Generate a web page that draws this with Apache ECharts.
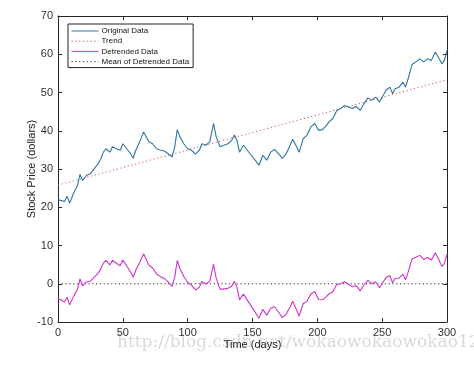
<!DOCTYPE html>
<html><head><meta charset="utf-8">
<script src="https://cdn.jsdelivr.net/npm/echarts@6/dist/echarts.min.js"></script>
<style>html,body{margin:0;padding:0;background:#fff}#c{width:474px;height:366px}</style>
</head><body><div id="c"></div>
<script>
const days = [0,2,5,7,9,12,15,17,19,22,25,28,31,33,35,37,40,42,45,48,50,53,56,58,60,63,66,68,70,73,76,79,82,85,88,90,92,94,97,100,103,106,109,111,114,117,120,122,125,128,131,134,136,138,140,143,146,149,152,155,158,161,164,167,170,173,176,179,181,184,186,189,192,195,198,201,204,207,209,212,215,218,221,224,227,230,233,236,239,242,245,248,250,253,256,258,260,263,266,268,270,273,276,279,282,285,288,291,294,296,298,300];
const original = [22.0,21.8,21.5,22.9,21.1,23.6,25.7,28.6,27.0,28.3,28.8,30.1,31.4,32.7,34.4,35.3,34.4,35.8,35.3,34.9,36.6,35.3,34.0,32.8,34.9,37.1,39.7,38.4,37.1,36.6,35.3,34.9,34.7,34.0,33.2,35.8,40.3,38.4,36.6,35.3,34.9,33.9,34.9,36.6,36.2,37.1,41.9,38.4,35.8,36.2,36.6,37.5,38.9,37.5,34.4,36.2,34.9,33.6,32.3,31.0,33.6,32.3,34.4,35.1,34.0,32.8,34.0,36.2,37.8,35.8,34.4,37.9,38.8,41.0,41.9,40.1,40.3,41.4,42.3,43.2,45.3,45.8,46.6,46.2,45.8,46.4,45.3,47.1,48.6,48.0,48.8,47.5,48.8,50.6,51.4,49.7,51.0,51.4,52.7,51.4,53.6,57.3,58.0,58.8,58.0,58.8,58.4,60.6,58.8,57.5,58.4,61.0];
const trendEnds = [25.8, 53.3];   // trend value at day 0 and day 300
const detrendedMean = 0;
const xTicks = [0, 300, 50];
const yTicks = [-10, 70, 10];
const names = ['Original Data','Trend','Detrended Data','Mean of Detrended Data'];

const slope = (trendEnds[1]-trendEnds[0])/300;
const origData = days.map((d,i)=>[d, original[i]]);
const detData = days.map((d,i)=>[d, +(original[i] - (trendEnds[0] + slope*d)).toFixed(2)]);
const trendData = [[0,trendEnds[0]],[300,trendEnds[1]]];
const meanData = [[0,detrendedMean],[300,detrendedMean]];

const font = 'Liberation Sans, Arial, sans-serif';
const axBase = (pos, showLabel) => ({
  type:'value', position:pos, min: pos==='top'||pos==='bottom'?xTicks[0]:yTicks[0],
  max: pos==='top'||pos==='bottom'?xTicks[1]:yTicks[1],
  interval: pos==='top'||pos==='bottom'?xTicks[2]:yTicks[2],
  axisLine:{show:true,onZero:false,lineStyle:{color:'#262626',width:1}},
  axisTick:{show:true,inside:true,length:4,lineStyle:{color:'#262626'}},
  axisLabel:{show:showLabel,color:'#333',fontSize:11,fontFamily:font,margin:5},
  splitLine:{show:false}
});
const chart = echarts.init(document.getElementById('c'));
const xb = axBase('bottom', true);
xb.name='Time (days)'; xb.nameLocation='middle'; xb.nameGap=17; xb.nameMoveOverlap=false;
xb.nameTextStyle={color:'#222',fontSize:11,fontFamily:font};
const yl = axBase('left', true);
yl.name='Stock Price (dollars)'; yl.nameLocation='middle'; yl.nameGap=21; yl.nameMoveOverlap=false;
yl.nameTextStyle={color:'#222',fontSize:11,fontFamily:font};
chart.setOption({
  animation:false,
  backgroundColor:'#fff',
  grid:{left:58,right:27,top:16,bottom:44},
  xAxis:[xb, axBase('top', false)],
  yAxis:[yl, axBase('right', false)],
  legend:{
    orient:'vertical', left:68, top:24, data:names,
    itemWidth:27, itemHeight:8, itemGap:2.2,
    padding:[3,4,2,3], borderColor:'#222', borderWidth:1, backgroundColor:'#fff', borderRadius:0,
    itemStyle:{opacity:0},
    lineStyle:{width:1},
    textStyle:{fontSize:8,fontFamily:font,color:'#111',padding:[0,0,0,-2]}
  },
  graphic:[{type:'text',left:117,top:334,silent:true,z:-1,
    style:{text:'http://blog.csdn.net/wokaowokaowokao12345',font:'17px "DejaVu Serif", serif',fill:'rgba(160,160,160,0.4)'}}],
  series:[
    {name:names[0],type:'line',data:origData,showSymbol:false,symbol:'none',
      lineStyle:{color:'#2f77a2',width:1.1},itemStyle:{color:'#2f77a2'},z:3},
    {name:names[1],type:'line',data:trendData,showSymbol:false,symbol:'none',
      lineStyle:{color:'#e0504a',width:1,type:[1.2,2.6]},itemStyle:{color:'#e0504a'},z:2},
    {name:names[2],type:'line',data:detData,showSymbol:false,symbol:'none',
      lineStyle:{color:'#cc33cc',width:1.1},itemStyle:{color:'#cc33cc'},z:3},
    {name:names[3],type:'line',data:meanData,showSymbol:false,symbol:'none',
      lineStyle:{color:'#333',width:1,type:[1.2,2.6]},itemStyle:{color:'#333'},z:2}
  ]
});
</script></body></html>
